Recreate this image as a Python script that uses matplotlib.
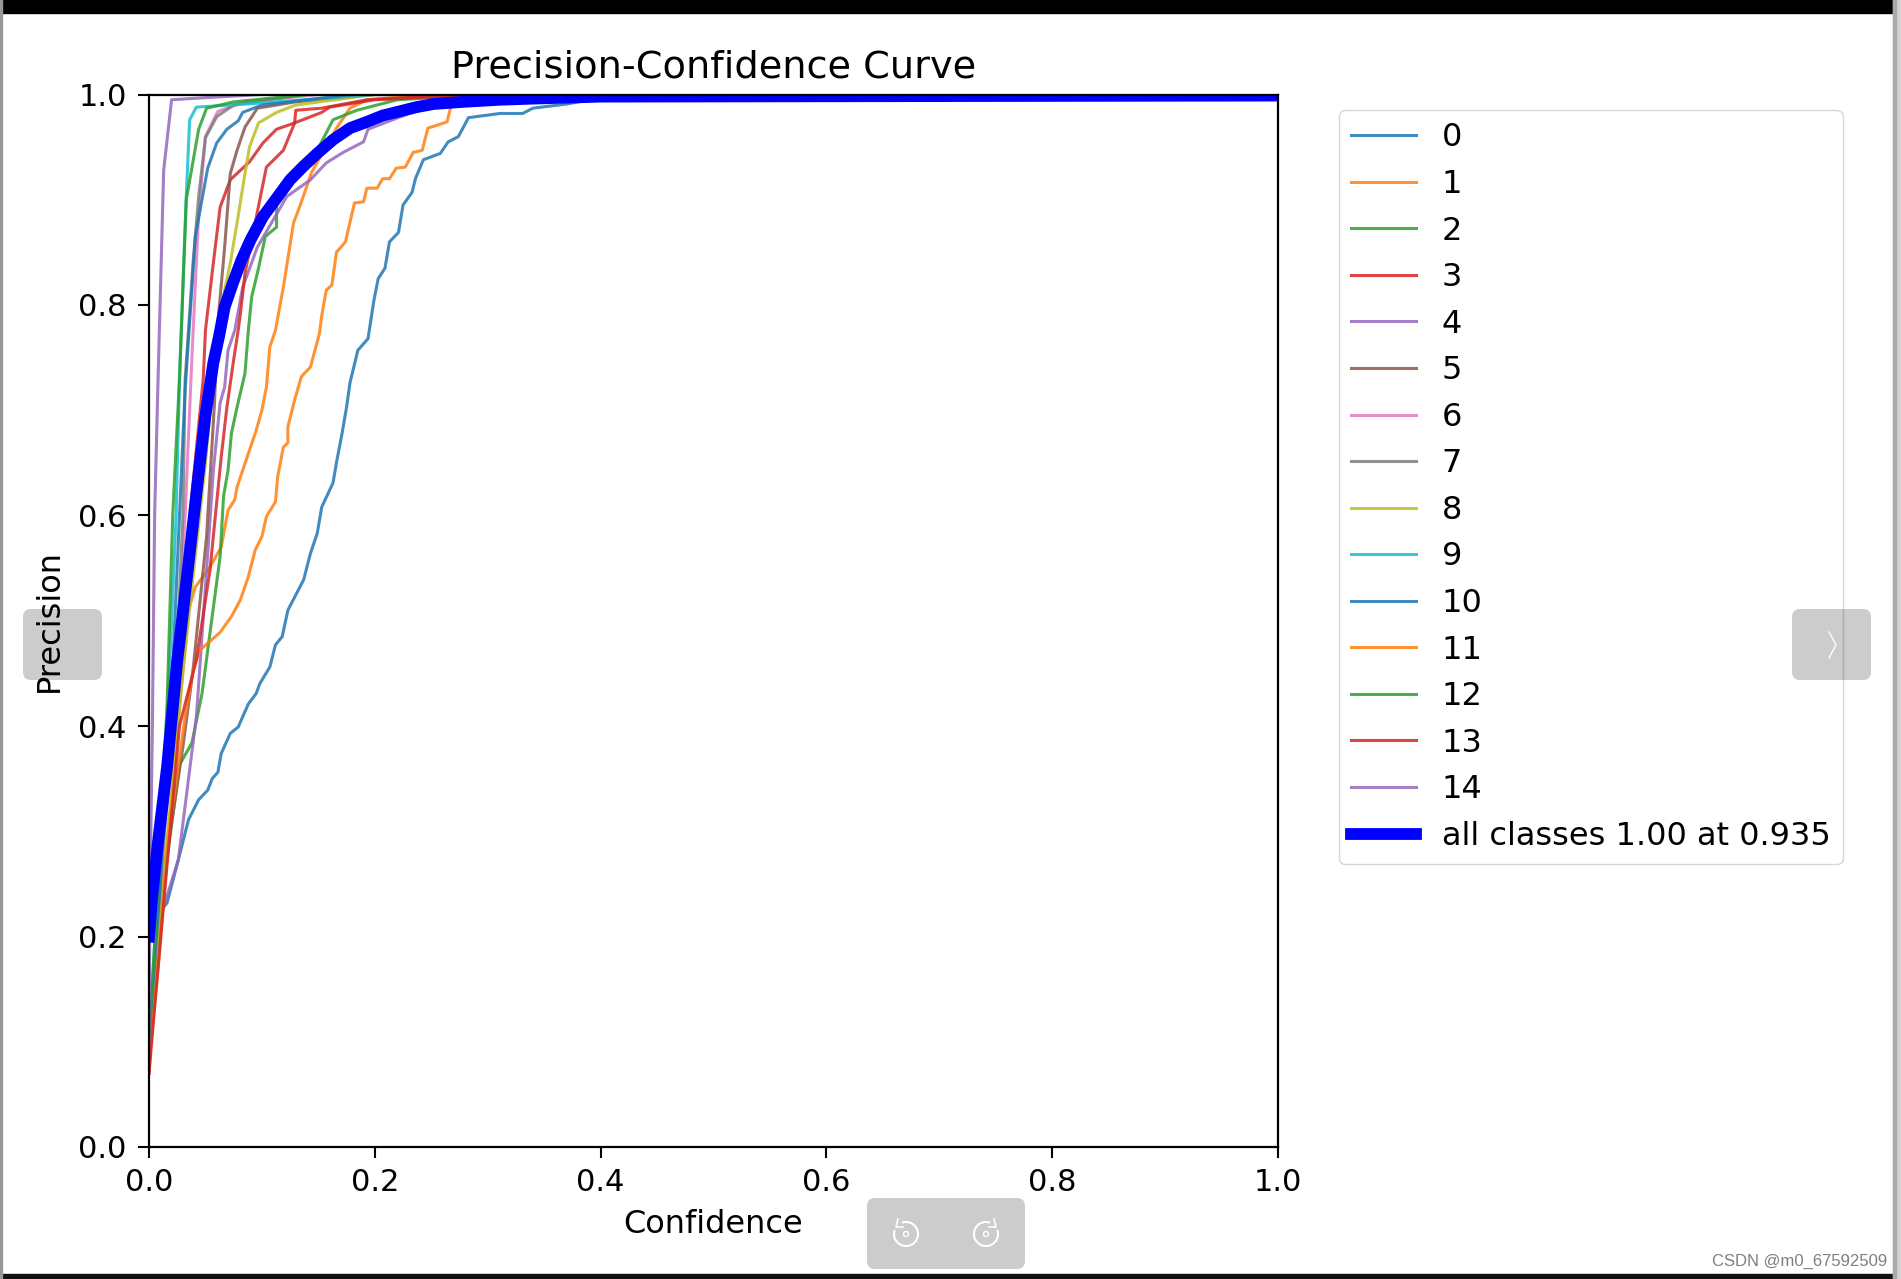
import matplotlib
matplotlib.use('Agg')
import matplotlib.pyplot as plt
from matplotlib.patches import FancyBboxPatch, Rectangle, Arc
from matplotlib.transforms import Affine2D

# Curves: confidence, precision
conf_0 = [0, .004, .008, .011, .016, .026, .035, .044, .052, .056, .061, .064, .072, .079, .088, .095, .098, .107, .112, .118, .123, .137, .143, .149, .153, .163, .166, .171, .175, .178, .185, .194, .199, .203, .209, .213, .221, .225, .233, .236, .243, .258, .265, .274, .283, .311, .331, .34, .37, .391, .4, .5, 1]
prec_0 = [.08, .15, .187, .225, .232, .273, .311, .33, .339, .35, .356, .374, .393, .399, .421, .431, .44, .456, .477, .485, .51, .539, .564, .583, .608, .631, .65, .678, .703, .726, .757, .768, .803, .825, .835, .86, .869, .895, .907, .92, .938, .944, .955, .96, .978, .982, .982, .987, .991, .995, .997, 1, 1]

conf_1 = [0, .008, .02, .028, .035, .041, .054, .064, .07, .076, .078, .083, .089, .095, .1, .104, .107, .112, .119, .128, .134, .144, .166, .178, .193, .25, 1]
prec_1 = [.08, .2, .33, .43, .51, .532, .551, .57, .605, .615, .627, .643, .662, .681, .7, .722, .76, .776, .817, .878, .895, .926, .968, .987, .995, 1, 1]

conf_2 = [0, .006, .01, .027, .038, .047, .052, .063, .066, .07, .073, .078, .085, .088, .091, .097, .103, .113, .113, .13, .149, .163, .184, .22, .3, 1]
prec_2 = [.073, .19, .225, .363, .384, .431, .472, .561, .618, .643, .678, .703, .735, .776, .808, .835, .865, .874, .897, .93, .947, .976, .985, .995, 1, 1]

conf_3 = [0, .01, .02, .028, .038, .048, .05, .057, .063, .072, .089, .101, .113, .129, .153, .16, .2, .3, 1]
prec_3 = [.07, .25, .4, .5, .62, .729, .776, .84, .893, .919, .936, .954, .967, .973, .983, .988, .995, 1, 1]

conf_4 = [0, .012, .026, .039, .042, .051, .057, .063, .067, .07, .076, .083, .096, .122, .143, .157, .172, .19, .194, .25, .32, 1]
prec_4 = [.08, .225, .273, .384, .409, .548, .643, .707, .722, .757, .776, .817, .855, .903, .919, .935, .945, .955, .967, .99, 1, 1]

conf_5 = [0, .012, .03, .039, .051, .058, .061, .067, .072, .078, .085, .096, .13, .2, 1]
prec_5 = [.08, .25, .38, .453, .58, .707, .783, .855, .925, .947, .969, .987, .993, 1, 1]

conf_6 = [0, .01, .022, .032, .038, .044, .05, .061, .085, .15, 1]
prec_6 = [.09, .25, .4, .6, .75, .887, .96, .984, .993, 1, 1]

conf_7 = [0, .01, .024, .03, .032, .039, .044, .05, .06, .075, .14, 1]
prec_7 = [.09, .25, .45, .6, .729, .84, .903, .959, .979, .99, 1, 1]

conf_8 = [0, .015, .03, .039, .05, .061, .072, .078, .085, .089, .097, .113, .13, .2, 1]
prec_8 = [.09, .28, .45, .542, .65, .783, .84, .878, .925, .95, .973, .983, .99, 1, 1]

conf_9 = [0, .008, .018, .024, .027, .033, .036, .042, .1, .2, 1]
prec_9 = [.1, .25, .45, .6, .729, .903, .976, .988, .992, 1, 1]

conf_10 = [0, .01, .02, .027, .032, .041, .052, .06, .069, .079, .083, .1, .18, 1]
prec_10 = [.1, .25, .43, .6, .72, .865, .93, .954, .967, .975, .983, .99, 1, 1]

conf_11 = [0, .009, .018, .032, .039, .045, .063, .073, .081, .088, .094, .1, .104, .112, .114, .119, .123, .123, .129, .135, .143, .147, .151, .153, .157, .162, .166, .174, .182, .19, .193, .202, .207, .213, .219, .227, .234, .242, .247, .264, .267, .27, .3, 1]
prec_11 = [.08, .18, .3, .409, .453, .472, .489, .504, .52, .542, .567, .58, .599, .613, .637, .665, .669, .684, .71, .732, .741, .757, .773, .79, .814, .819, .85, .86, .897, .898, .911, .911, .92, .92, .93, .931, .945, .947, .968, .974, .987, .995, 1, 1]

conf_12 = [0, .008, .016, .021, .027, .033, .044, .051, .075, .14, 1]
prec_12 = [.1, .25, .42, .6, .73, .9, .967, .987, .993, 1, 1]

conf_13 = [0, .012, .027, .042, .054, .064, .069, .075, .079, .081, .085, .094, .104, .119, .129, .13, .153, .193, .28, 1]
prec_13 = [.07, .22, .4, .463, .548, .656, .703, .748, .776, .792, .83, .878, .931, .947, .973, .985, .987, .995, 1, 1]

conf_14 = [0, .001, .003, .005, .008, .013, .02, .05, .1, 1]
prec_14 = [.1, .25, .4, .6, .729, .928, .995, .997, 1, 1]

conf_all = [0, .003, .008, .016, .025, .029, .036, .044, .05, .057, .062, .067, .074, .082, .09, .101, .112, .125, .137, .149, .163, .178, .193, .207, .222, .237, .252, .278, .31, .337, .4, 1]
prec_all = [.2, .24, .29, .361, .462, .498, .564, .64, .695, .745, .77, .798, .82, .843, .862, .884, .9, .919, .932, .944, .957, .968, .974, .98, .984, .988, .991, .993, .995, .996, .998, .999]

curves = [(conf_0, prec_0), (conf_1, prec_1), (conf_2, prec_2), (conf_3, prec_3), (conf_4, prec_4),
          (conf_5, prec_5), (conf_6, prec_6), (conf_7, prec_7), (conf_8, prec_8), (conf_9, prec_9),
          (conf_10, prec_10), (conf_11, prec_11), (conf_12, prec_12), (conf_13, prec_13), (conf_14, prec_14)]

W, H = 1901, 1279
fig = plt.figure(figsize=(W / 100, H / 100), dpi=100)
ax = fig.add_axes([149 / W, 1 - 1147 / H, 1129 / W, 1052.5 / H])

for i, (c, p) in enumerate(curves):
    ax.plot(c, p, linewidth=2.2, alpha=0.85, label=str(i))
ax.plot(conf_all, prec_all, linewidth=8.5, color='blue', label='all classes 1.00 at 0.935')

ax.set_xlim(0, 1)
ax.set_ylim(0, 1)
ax.set_xlabel('Confidence', fontsize=23, labelpad=9)
ax.set_ylabel('Precision', fontsize=23, labelpad=9.5)
ax.set_title('Precision-Confidence Curve', fontsize=27.5, pad=12.5)
ax.tick_params(axis='x', labelsize=22, length=8, width=1.5, pad=7)
ax.tick_params(axis='y', labelsize=22, length=8, width=1.5, pad=8)
for s in ax.spines.values():
    s.set_linewidth(1.6)
ax.legend(bbox_to_anchor=(1.0537, 0.985), loc='upper left', borderaxespad=0, fontsize=23,
          labelspacing=0.487, handlelength=2.05, handletextpad=0.8, borderpad=0.38)

# screenshot chrome, in pixels from the top left
px = Affine2D().scale(1 / W, -1 / H).translate(0, 1) + fig.transFigure
fig.add_artist(Rectangle((0, 0), 1893, 13, color='black', transform=px))
fig.add_artist(Rectangle((0, 1274), 1893, 5, color='#111111', transform=px))
fig.add_artist(Rectangle((0, 0), 2, H, color='#999999', transform=px))
fig.add_artist(Rectangle((1893, 0), 8, H, color='#d2d2d2', transform=px))
fig.add_artist(Rectangle((1893, 0), 3, H, color='#aaaaaa', transform=px))

for x0, y0, w, h in [(23, 609, 79, 71), (1792, 609, 79, 71), (867, 1198, 158, 71)]:
    fig.add_artist(FancyBboxPatch((x0 + 8, y0 + 8), w - 16, h - 16, boxstyle='round,pad=8,rounding_size=8',
                                  facecolor='black', edgecolor='none', alpha=0.2, transform=px))
fig.add_artist(plt.Line2D([1829, 1836, 1829], [632, 645, 658], color='white', linewidth=1, transform=px))
fig.add_artist(Arc((906, 1234), 24, 24, theta1=250, theta2=560, color='white', linewidth=1.5, transform=px))
fig.add_artist(Arc((986, 1234), 24, 24, theta1=340, theta2=650, color='white', linewidth=1.5, transform=px))
for cx in [906, 986]:
    fig.add_artist(Arc((cx, 1234), 5, 5, color='white', linewidth=1, transform=px))
fig.add_artist(plt.Line2D([898, 896, 903], [1219, 1227, 1227], color='white', linewidth=1.2, transform=px))
fig.add_artist(plt.Line2D([994, 996, 989], [1219, 1227, 1227], color='white', linewidth=1.2, transform=px))

fig.text(1887 / W, 1 - 1261 / H, 'CSDN @m0_67592509', fontsize=12, color='#7f7f7f', ha='right', va='center',
         family='Liberation Sans')

fig.savefig('out.png', dpi=100)
